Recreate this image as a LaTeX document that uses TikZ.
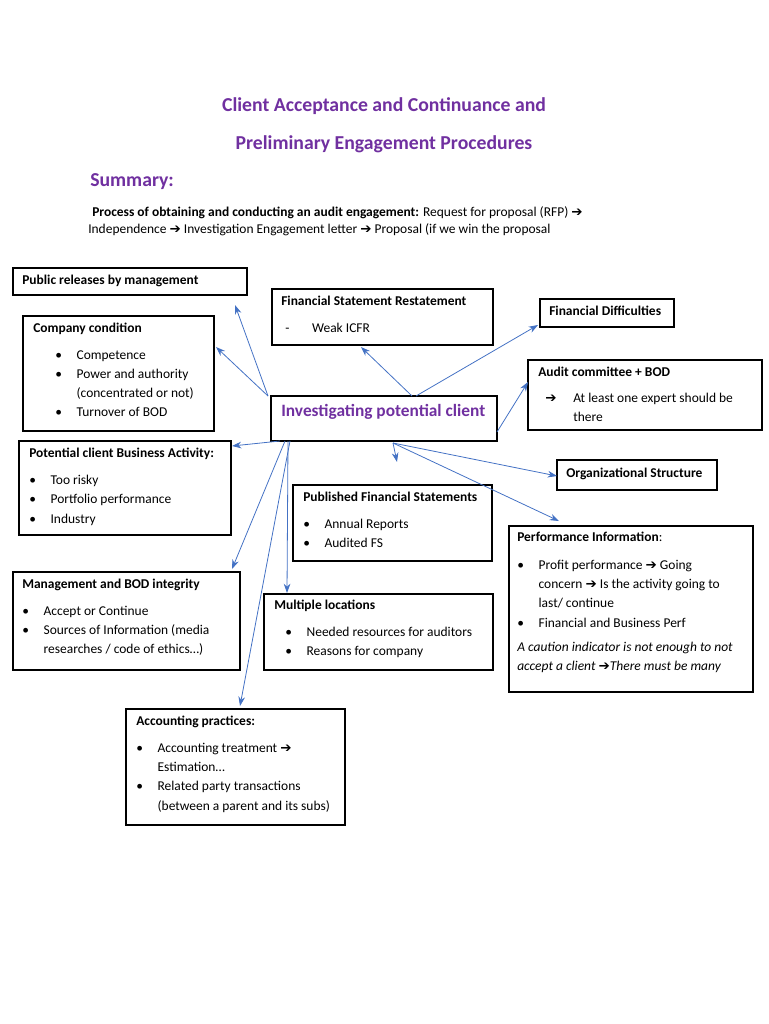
\documentclass[tikz,border=0pt]{standalone}
\usepackage{fontspec}
\setmainfont{Carlito}
\newfontfamily\dv{DejaVu Sans}
\usetikzlibrary{arrows.meta}
\definecolor{pur}{HTML}{7030A0}
\definecolor{arr}{HTML}{4472C4}
\newcommand{\myb}{\makebox[16pt][l]{\textbullet}}
\newcommand{\myc}{\hspace*{16pt}}
\newcommand{\myar}{{\dv\scalebox{1.0}{➔}}}
\begin{document}
\begin{tikzpicture}[x=0.75pt,y=-0.75pt,
  box/.style={draw,line width=0.8pt},
  txt/.style={anchor=north west,align=left,inner sep=0pt,font=\fontsize{10.1}{14.4}\selectfont},
  hd/.style={anchor=north west,inner sep=0pt,font=\fontsize{10.1}{12}\selectfont\bfseries},
  ar/.style={draw=arr,line width=0.6pt,-{Stealth[length=7pt,width=5pt]}}]
\useasboundingbox (0,0) rectangle (768,1024);
\node[font=\fontsize{14.8}{17}\selectfont\bfseries,text=pur] (t1) at (384,106) {Client Acceptance and Continuance and};
\node[font=\fontsize{14.8}{17}\selectfont\bfseries,text=pur] (t2) at (384,144) {Preliminary Engagement Procedures};
\node[anchor=west,inner sep=0pt,font=\fontsize{14.8}{17}\selectfont\bfseries,text=pur] (sm) at (90,182) {Summary:};
\node[txt] (intro) at (92,206) {\textbf{Process of obtaining and conducting an audit engagement:} Request for proposal (RFP) \myar\\[-1pt]\hspace*{-3pt}Independence \myar{} Investigation Engagement letter \myar{} Proposal (if we win the proposal};

% boxes
\draw[box] (13,268) rectangle (247,295); \node[hd] (b1) at (22,275) {Public releases by management};
\draw[box] (23,316) rectangle (214,431); \node[hd] (b2) at (33,323) {Company condition};
\node[txt] (b2t) at (55,350) {\myb Competence\\\myb Power and authority\\\myc (concentrated or not)\\\myb Turnover of BOD};
\draw[box] (272,289) rectangle (493,345); \node[hd] (b3) at (281,296) {Financial Statement Restatement};
\node[txt] (b3t) at (285,323) {-\hspace*{17pt}Weak ICFR};
\draw[box] (540,299) rectangle (674,327); \node[hd] (b4) at (549,306) {Financial Difficulties};
\draw[box] (528,360) rectangle (762,430); \node[hd] (b5) at (538,367) {Audit committee + BOD};
\node[txt] (b5t) at (545,393) {\makebox[21pt][l]{\myar}At least one expert should be\\\hspace*{21pt}there};
\draw[box] (271,396) rectangle (497,441); \node[anchor=west,inner sep=0pt,font=\fontsize{13}{15}\selectfont\bfseries,text=pur] (c) at (281,412) {Investigating potential client};
\draw[box] (19,441) rectangle (231,535); \node[hd] (b6) at (29,448) {Potential client Business Activity:};
\node[txt] (b6t) at (29,475) {\myb Too risky\\\myb Portfolio performance\\\myb Industry};
\draw[box] (557,460) rectangle (717,490); \node[hd] (b7) at (566,468) {Organizational Structure};
\draw[box] (293,485) rectangle (492,561); \node[hd] (b8) at (303,492) {Published Financial Statements};
\node[txt] (b8t) at (303,519) {\myb Annual Reports\\\myb Audited FS};
\draw[box] (509,526) rectangle (753,692); \node[txt] (b9) at (517,532) {\textbf{Performance Information}:};
\node[txt] (b9t) at (517,560) {\myb Profit performance \myar{} Going\\\myc concern \myar{} Is the activity going to\\\myc last/ continue\\\myb Financial and Business Perf\\[4pt]\textit{A caution indicator is not enough to not}\\\textit{accept a client \myar There must be many}};
\draw[box] (13,572) rectangle (240,670); \node[hd] (b10) at (22,579) {Management and BOD integrity};
\node[txt] (b10t) at (22,606) {\myb Accept or Continue\\\myb Sources of Information (media\\\myc researches / code of ethics…)};
\draw[box] (264,594) rectangle (493,670); \node[hd] (b11) at (274,600) {Multiple locations};
\node[txt] (b11t) at (285,627) {\myb Needed resources for auditors\\\myb Reasons for company};
\draw[box] (126,709) rectangle (345,825); \node[hd] (b12) at (136,716) {Accounting practices:};
\node[txt] (b12t) at (136,743) {\myb Accounting treatment \myar\\\myc Estimation…\\\myb Related party transactions\\\myc (between a parent and its subs)};

% arrows
\coordinate (p1) at (268,396); \coordinate (q1) at (235,305);
\coordinate (q2) at (216,347);
\coordinate (p3) at (412,396); \coordinate (q3) at (361,347);
\coordinate (p4) at (416,396); \coordinate (q4) at (538,325);
\coordinate (p5) at (497,432); \coordinate (q5) at (528,382);
\coordinate (p6) at (280,441); \coordinate (q6) at (232,446);
\coordinate (p7) at (393,443); \coordinate (q7) at (557,476);
\coordinate (q8) at (397,462);
\coordinate (q9) at (559,521);
\coordinate (p10) at (285,441); \coordinate (q10) at (232,569);
\coordinate (p11) at (288,441); \coordinate (q11) at (287,593);
\coordinate (p12) at (290,441); \coordinate (q12) at (240,706);
\draw[ar] (p1) -- (q1); \draw[ar] (p1) -- (q2);
\draw[ar] (p3) -- (q3); \draw[ar] (p4) -- (q4);
\draw[ar] (p5) -- (q5); \draw[ar] (p6) -- (q6);
\draw[ar] (p7) -- (q7); \draw[ar] (p7) -- (q8); \draw[ar] (p7) -- (q9);
\draw[ar] (p10) -- (q10); \draw[ar] (p11) -- (q11); \draw[ar] (p12) -- (q12);
\end{tikzpicture}
\end{document}
